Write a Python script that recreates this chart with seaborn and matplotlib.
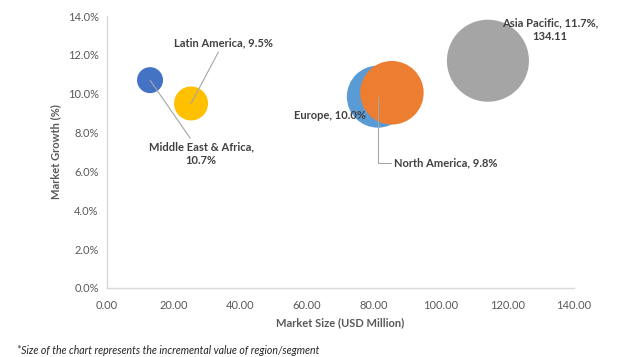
import pandas as pd
import seaborn as sns
import matplotlib.pyplot as plt
from matplotlib.ticker import FuncFormatter

# values
regions = ['Europe', 'North America', 'Asia Pacific', 'Latin America', 'Middle East & Africa']
market_size = [81.2, 85.4, 114.2, 25.2, 12.9]
market_growth = [9.85, 10.05, 11.7, 9.5, 10.7]
increment = [20.0, 21.0, 35.0, 6.0, 3.5]
labels = ['Europe, 10.0%', 'North America, 9.8%', 'Asia Pacific, 11.7%,\n134.11',
          'Latin America, 9.5%', 'Middle East & Africa,\n10.7%']
colors = ['#5B9BD5', '#ED7D31', '#A5A5A5', '#FFC000', '#4472C4']

df = pd.DataFrame({'region': regions, 'size': market_size,
                   'growth': market_growth, 'inc': increment})

sns.set_theme(style='white')
plt.rcParams['font.family'] = ['Lato', 'DejaVu Sans']

fig = plt.figure(figsize=(6.21, 3.57), dpi=100)
ax = fig.add_axes([0.1723, 0.1935, 0.752, 0.7615])

sns.scatterplot(data=df, x='size', y='growth', hue='region', size='inc',
                palette=dict(zip(regions, colors)), sizes=(350, 3490),
                linewidth=0, alpha=1, legend=False, ax=ax, zorder=2)

ax.set_xlim(0, 140)
ax.set_ylim(0, 14)
ax.set_xticks(range(0, 141, 20))
ax.set_yticks(range(0, 15, 2))
ax.xaxis.set_major_formatter(FuncFormatter(lambda v, p: f'{v:.2f}'))
ax.yaxis.set_major_formatter(FuncFormatter(lambda v, p: f'{v:.1f}%'))
ax.tick_params(length=0, labelsize=8, colors='#595959')
ax.tick_params(axis='x', pad=9)
ax.tick_params(axis='y', pad=6)
for s in ['top', 'right']:
    ax.spines[s].set_visible(False)
for s in ['left', 'bottom']:
    ax.spines[s].set_color('#D9D9D9')
    ax.spines[s].set_linewidth(1)

ax.set_xlabel('Market Size (USD Million)', fontsize=8, fontweight='bold', color='#595959', labelpad=4)
ax.set_ylabel('Market Growth (%)', fontsize=8, fontweight='bold', color='#595959', labelpad=5)

lab_kw = dict(fontsize=8, fontweight='bold', color='#404040', zorder=5)
line_kw = dict(arrowstyle='-', color='#A6A6A6', lw=0.8, shrinkA=0, shrinkB=0)

# Latin America
ax.annotate(labels[3], xy=(market_size[3], market_growth[3]), xytext=(34.8, 12.6),
            ha='center', va='center', arrowprops=line_kw, **lab_kw)
# Middle East & Africa
ax.annotate(labels[4], xy=(market_size[4], market_growth[4]), xytext=(28.2, 6.9),
            ha='center', va='center', linespacing=1.3, arrowprops=line_kw, **lab_kw)
# Europe
ax.text(66.8, 8.9, labels[0], ha='center', va='center', **lab_kw)
# North America (leader drawn to the blue bubble as in the source)
ax.annotate(labels[1], xy=(market_size[0], market_growth[0]), xytext=(86.0, 6.43),
            ha='left', va='center',
            arrowprops=dict(line_kw, connectionstyle='angle,angleA=0,angleB=90,rad=0',
                            relpos=(0, 0.5)), **lab_kw)
# Asia Pacific
ax.text(132.8, 13.3, labels[2], ha='center', va='center', linespacing=1.3, **lab_kw)

fig.text(0.027, 1 - 350 / 357, '*Size of the chart represents the incremental value of region/segment',
         fontsize=7.6, style='italic', color='#262626', va='center')

fig.savefig('out.png', dpi=100)
